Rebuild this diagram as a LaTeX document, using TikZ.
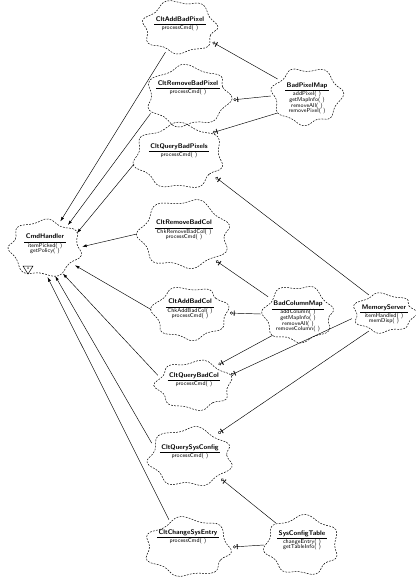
\documentclass[tikz,border=0pt]{standalone}
\usetikzlibrary{shapes.geometric,arrows.meta}
\tikzset{
  cls/.style={ellipse,inner sep=0pt,align=center,text depth=16pt,
    font=\sffamily\fontsize{5.7}{6}\selectfont},
  cloudedge/.style={line width=0.5pt,dash pattern=on 1.8pt off 1.3pt},
  isa/.style={line width=0.45pt,-{Latex[length=4.5pt,width=3pt]}},
  has/.style={line width=0.45pt,{Circle[open,length=3pt,width=3pt,sep=0.8pt]Bar[width=5pt,sep=0.8pt]Bar[width=5pt]}-}
}
\setlength{\arrayrulewidth}{0.6pt}
\newcommand{\clsbox}[2]{\renewcommand{\arraystretch}{0.62}%
  \begin{tabular}{@{\hspace{1.5pt}}c@{\hspace{1.5pt}}}{\bfseries\fontsize{6.7}{7}\selectfont #1}\\[1.8pt]\hline\rule{0pt}{4.8pt}#2\end{tabular}}
% cloud outline round a named node: name, half width, half height, rotation
\newcommand{\drawcloud}[4]{%
  \draw[cloudedge,shift={(#1.center)},xscale=#2,yscale=#3,rotate=#4]
    plot[smooth cycle,tension=0.75] coordinates {(1.0,0) (0.80,0.30) (0.74,0.72) (0.30,0.84)
      (-0.09,1.0) (-0.43,0.74) (-0.84,0.60) (-0.86,0.15) (-0.98,-0.26) (-0.65,-0.54)
      (-0.36,-0.96) (0.15,-0.86) (0.59,-0.84) (0.78,-0.36)};}
\begin{document}
\begin{tikzpicture}[x=1bp,y=-1bp]
\useasboundingbox (0,0) rectangle (415,579);
% clients
\node[cls,minimum width=76bp,minimum height=54bp,text depth=12pt] (addBP) at (180,27) {\clsbox{CltAddBadPixel}{processCmd( )}};
\node[cls,minimum width=86bp,minimum height=62bp,text depth=22pt] (remBP) at (188,96) {\clsbox{CltRemoveBadPixel}{processCmd( )}};
\node[cls,minimum width=92bp,minimum height=66bp] (qBP) at (179,156) {\clsbox{CltQueryBadPixels}{processCmd( )}};
\node[cls,minimum width=94bp,minimum height=70bp] (remBC) at (184,234) {\clsbox{CltRemoveBadCol}{ChkRemoveBadCol( )\\processCmd( )}};
\node[cls,minimum width=78bp,minimum height=54bp] (addBC) at (190,313) {\clsbox{CltAddBadCol}{ChkAddBadCol( )\\processCmd( )}};
\node[cls,minimum width=78bp,minimum height=50bp] (qBC) at (194,385) {\clsbox{CltQueryBadCol}{processCmd( )}};
\node[cls,minimum width=86bp,minimum height=60bp] (qSC) at (190,457) {\clsbox{CltQuerySysConfig}{processCmd( )}};
\node[cls,minimum width=88bp,minimum height=60bp,text depth=26pt] (chSE) at (188,547) {\clsbox{CltChangeSysEntry}{processCmd( )}};
% base class
\node[cls,minimum width=74bp,minimum height=58bp] (cmd) at (45,248) {\clsbox{CmdHandler}{itemPicked( )\\getPolicy( )}};
\draw[line width=0.5pt] (23,266) -- (33,266) -- (28,274) -- cycle;
\node[font=\sffamily\fontsize{3.5}{4}\selectfont,inner sep=0pt] (absA) at (28,268.5) {A};
% servers
\node[cls,minimum width=72bp,minimum height=58bp,text depth=9pt] (bpm) at (307,96) {\clsbox{BadPixelMap}{addPixel( )\\getMapInfo( )\\removeAll( )\\removePixel( )}};
\node[cls,minimum width=72bp,minimum height=58bp,text depth=9pt] (bcm) at (298,314) {\clsbox{BadColumnMap}{addColumn( )\\getMapInfo( )\\removeAll( )\\removeColumn( )}};
\node[cls,minimum width=64bp,minimum height=40bp,text depth=6pt] (mem) at (384,313) {\clsbox{MemoryServer}{itemHandled( )\\memDisp( )}};
\node[cls,minimum width=76bp,minimum height=60bp,text depth=18pt] (sct) at (302,545) {\clsbox{SysConfigTable}{changeEntry( )\\getTableInfo( )}};
% outlines
\drawcloud{addBP}{38}{27}{0}
\drawcloud{remBP}{43}{31}{40}
\drawcloud{qBP}{46}{33}{-20}
\drawcloud{remBC}{47}{35}{15}
\drawcloud{addBC}{39}{27}{60}
\drawcloud{qBC}{39}{25}{-35}
\drawcloud{qSC}{43}{30}{25}
\drawcloud{chSE}{44}{30}{-10}
\drawcloud{cmd}{37}{29}{180}
\drawcloud{bpm}{36}{29}{-50}
\drawcloud{bcm}{36}{29}{10}
\drawcloud{mem}{32}{20}{45}
\drawcloud{sct}{38}{30}{-25}
% inheritance
\draw[isa] (addBP.-120) -- (cmd.60);
\draw[isa] (remBP.-155) -- (cmd.45);
\draw[isa] (qBP.-170) -- (cmd.25);
\draw[isa] (remBC.180) -- (cmd.2);
\draw[isa] (addBC.175) -- (cmd.-30);
\draw[isa] (qBC.165) -- (cmd.-55);
\draw[isa] (qSC.160) -- (cmd.-70);
\draw[isa] (chSE.125) -- (cmd.-85);
% has
\draw[has] (addBP.-25) -- (bpm.150);
\draw[has] (remBP.-5) -- (bpm.180);
\draw[has] (qBP.35) -- (bpm.-150);
\draw[has] (qBP.-30) -- (mem.130);
\draw[has] (remBC.-40) -- (bcm.150);
\draw[has] (addBC.0) -- (bcm.180);
\draw[has] (qBC.40) -- (bcm.-140);
\draw[has] (qBC.15) -- (mem.-170);
\draw[has] (qSC.40) -- (mem.-130);
\draw[has] (qSC.-35) -- (sct.140);
\draw[has] (chSE.0) -- (sct.180);
\end{tikzpicture}
\end{document}
